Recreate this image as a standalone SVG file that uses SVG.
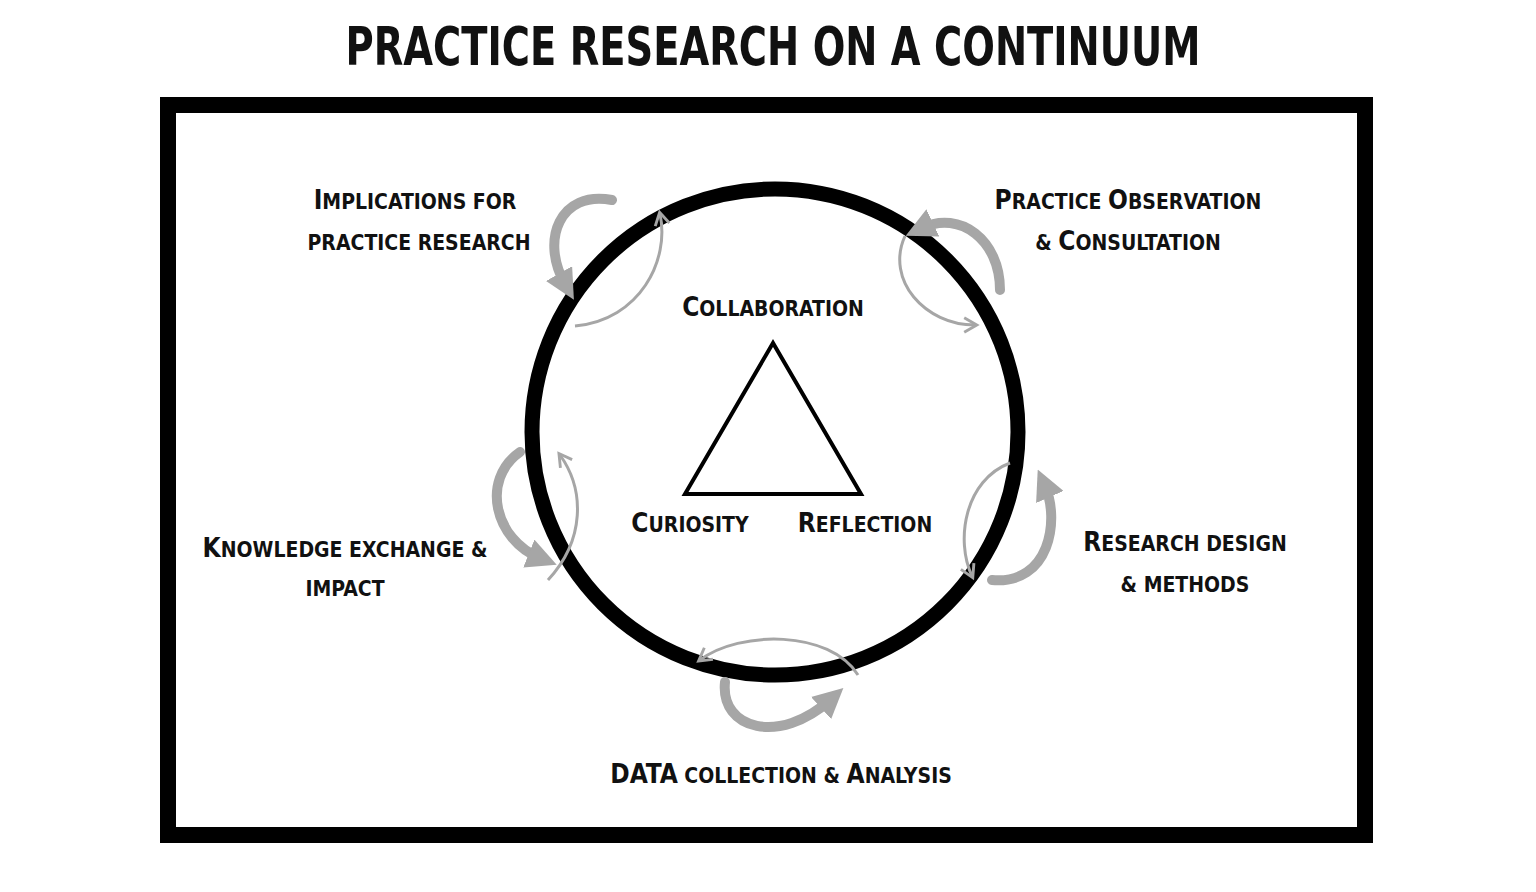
<svg xmlns="http://www.w3.org/2000/svg" width="1536" height="892" viewBox="0 0 1536 892">
<defs>
<marker id="thin" viewBox="0 0 10 10" refX="7" refY="5" markerWidth="6" markerHeight="6" orient="auto" markerUnits="strokeWidth"><path d="M1,1 L8,5 L1,9" fill="none" stroke="#a6a6a6" stroke-width="1.6"/></marker>
<marker id="thick" viewBox="0 0 10 10" refX="4" refY="5" markerWidth="3" markerHeight="3" orient="auto" markerUnits="strokeWidth"><path d="M0,0 L10,5 L0,10 Z" fill="#a6a6a6"/></marker>
<style>
.t{font-family:"DejaVu Sans Condensed","DejaVu Sans",sans-serif;font-weight:bold;fill:#111}
.lb{font-size:26px}.sm{font-size:21px}
.th{fill:none;stroke:#a6a6a6;stroke-width:3;marker-end:url(#thin)}
.tk{fill:none;stroke:#a6a6a6;stroke-width:10;stroke-linecap:round;marker-end:url(#thick)}
</style>
</defs>
<rect width="1536" height="892" fill="#fff"/>
<text class="t" x="773" y="65" font-size="54" text-anchor="middle" textLength="855" lengthAdjust="spacingAndGlyphs">PRACTICE RESEARCH ON A CONTINUUM</text>
<rect x="168" y="105" width="1197" height="730" fill="none" stroke="#000" stroke-width="16"/>
<g id="cycle"><circle cx="775" cy="432" r="243" fill="none" stroke="#000" stroke-width="15"/></g>
<g id="triangle"><polygon points="773,343 685,494 861,494" fill="none" stroke="#000" stroke-width="4"/></g>
<g id="labels" class="t">
<text x="773" y="316" text-anchor="middle" class="sm"><tspan class="lb">C</tspan>OLLABORATION</text>
<text x="690" y="532" text-anchor="middle" class="sm"><tspan class="lb">C</tspan>URIOSITY</text>
<text x="865" y="532" text-anchor="middle" class="sm"><tspan class="lb">R</tspan>EFLECTION</text>
<text x="415" y="209" text-anchor="middle" class="sm"><tspan class="lb">I</tspan>MPLICATIONS FOR</text>
<text x="419" y="250" text-anchor="middle" class="sm">PRACTICE RESEARCH</text>
<text x="1128" y="209" text-anchor="middle" class="sm"><tspan class="lb">P</tspan>RACTICE <tspan class="lb">O</tspan>BSERVATION</text>
<text x="1128" y="250" text-anchor="middle" class="sm">&amp; <tspan class="lb">C</tspan>ONSULTATION</text>
<text x="1185" y="551" text-anchor="middle" class="sm"><tspan class="lb">R</tspan>ESEARCH DESIGN</text>
<text x="1185" y="592" text-anchor="middle" class="sm">&amp; METHODS</text>
<text x="345" y="557" text-anchor="middle" class="sm"><tspan class="lb">K</tspan>NOWLEDGE EXCHANGE &amp;</text>
<text x="345" y="596" text-anchor="middle" class="sm">IMPACT</text>
<text x="781" y="783" text-anchor="middle" class="sm"><tspan class="lb">DATA</tspan> COLLECTION &amp; <tspan class="lb">A</tspan>NALYSIS</text>
</g>
<g id="connectors">
<path class="th" d="M575,326 C640,320 670,260 660,214"/>
<path class="tk" d="M612,200 C560,190 540,240 565,284"/>
<path class="tk" d="M1000,290 C1000,240 960,210 922,228"/>
<path class="th" d="M905,236 C885,280 925,325 975,325"/>
<path class="th" d="M1010,463 C965,480 955,540 972,576"/>
<path class="tk" d="M992,580 C1050,585 1060,520 1045,486"/>
<path class="th" d="M858,675 C830,630 740,630 700,660"/>
<path class="tk" d="M725,682 C720,730 780,745 830,700"/>
<path class="th" d="M548,580 C585,540 585,490 560,455"/>
<path class="tk" d="M520,452 C480,480 495,540 540,558"/>
</g>
</svg>
